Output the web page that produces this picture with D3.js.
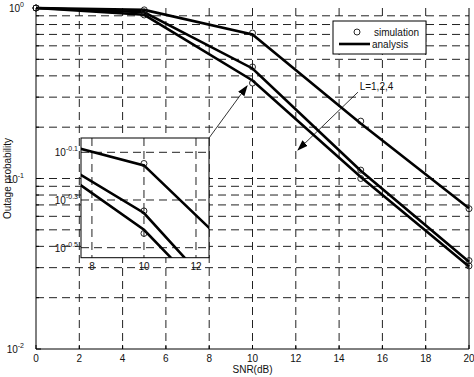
<!DOCTYPE html>
<html>
<head>
  <script src="https://d3js.org/d3.v7.min.js"></script>
  <style>
    body { margin: 0; background: #fff; font-family: 'Liberation Sans', Arial, sans-serif; }
    svg text { font-family: 'Liberation Sans', Arial, sans-serif; fill: #111; }
    .grid { stroke: #222; stroke-width: 1; stroke-dasharray: 8,5; fill: none; }
    .curve { fill: none; stroke: #000; stroke-width: 2.6; }
    .sim { fill: none; stroke: #111; stroke-width: 0.9; }
  </style>
</head>
<body>
<div id="chart"></div>
<script>
  // SNR points (dB)
  const snr = [0, 5, 10, 15, 20];

  // simulation (markers)
  const simL1 = [1, 0.975, 0.713, 0.217, 0.0665];
  const simL2 = [1, 0.945, 0.451, 0.112, 0.033];
  const simL4 = [1, 0.91, 0.363, 0.100, 0.0307];

  // analysis (lines)
  const anaL1 = [1, 0.975, 0.70, 0.21, 0.067];
  const anaL2 = [1, 0.944, 0.442, 0.111, 0.0325];
  const anaL4 = [1, 0.912, 0.376, 0.102, 0.0305];

  const xTicks = [0, 2, 4, 6, 8, 10, 12, 14, 16, 18, 20];
  const yTicks = [1, 0.1, 0.01];
  const yTickExp = ["0", "-1", "-2"];
  const insetXTicks = [8, 10, 12];
  const insetYTicks = [-0.1, -0.3, -0.5];
  const insetYLabels = ["-0.1", "-0.3", "-0.5"];

  const width = 474, height = 377;
  const margin = { top: 8, right: 5, bottom: 28, left: 36 };

  const svg = d3.select("#chart").append("svg")
    .attr("width", width)
    .attr("height", height);

  const x = d3.scaleLinear().domain([0, 20]).range([margin.left, width - margin.right]);
  const y = d3.scaleLog().domain([0.01, 1]).range([height - margin.bottom, margin.top]);

  // minor log values for the grid
  const minorY = [];
  [0.01, 0.1].forEach(base => {
    for (let k = 1; k <= 9; k++) minorY.push(base * k);
  });

  // grid
  svg.append("g").selectAll("line")
    .data(minorY.filter(v => v > 0.01))
    .enter().append("line")
    .attr("class", "grid")
    .attr("x1", x(0)).attr("x2", x(20))
    .attr("y1", d => y(d)).attr("y2", d => y(d));

  svg.append("g").selectAll("line")
    .data(xTicks.slice(1, -1))
    .enter().append("line")
    .attr("class", "grid")
    .attr("x1", d => x(d)).attr("x2", d => x(d))
    .attr("y1", y(1)).attr("y2", y(0.01));

  // axes lines
  const axisG = svg.append("g").attr("stroke", "#000").attr("stroke-width", 1);
  axisG.append("line").attr("x1", x(0)).attr("x2", x(0)).attr("y1", y(1)).attr("y2", y(0.01));
  axisG.append("line").attr("x1", x(0)).attr("x2", x(20)).attr("y1", y(0.01)).attr("y2", y(0.01));
  axisG.append("line").attr("x1", x(20)).attr("x2", x(20)).attr("y1", y(1)).attr("y2", y(0.01));

  // inward ticks
  axisG.selectAll(".xt")
    .data(xTicks)
    .enter().append("line")
    .attr("x1", d => x(d)).attr("x2", d => x(d))
    .attr("y1", y(0.01)).attr("y2", y(0.01) - 4);
  axisG.selectAll(".yt")
    .data(minorY.concat([1]))
    .enter().append("line")
    .attr("x1", x(0)).attr("x2", d => x(0) + (yTicks.includes(d) ? 5 : 3))
    .attr("y1", d => y(d)).attr("y2", d => y(d));

  // tick labels
  svg.append("g").selectAll("text")
    .data(xTicks)
    .enter().append("text")
    .attr("x", d => x(d))
    .attr("y", y(0.01) + 13)
    .attr("text-anchor", "middle")
    .attr("font-size", 10)
    .text(d => d);

  const yl = svg.append("g").selectAll("text")
    .data(yTicks)
    .enter().append("text")
    .attr("x", x(0) - 12)
    .attr("y", d => y(d) + 4)
    .attr("text-anchor", "end")
    .attr("font-size", 10);
  yl.append("tspan").text("10");
  yl.append("tspan").attr("dy", -5).attr("font-size", 7).text((d, i) => yTickExp[i]);

  // axis titles
  svg.append("text")
    .attr("x", x(10))
    .attr("y", height - 4)
    .attr("text-anchor", "middle")
    .attr("font-size", 10)
    .text("SNR(dB)");

  svg.append("text")
    .attr("transform", `translate(11, ${y(0.1)}) rotate(-90)`)
    .attr("text-anchor", "middle")
    .attr("font-size", 10)
    .text("Outage probability");

  // curves
  const analysis = [anaL1, anaL2, anaL4];
  const simulation = [simL1, simL2, simL4];

  const line = d3.line().x((d, i) => x(snr[i])).y(d => y(d));

  svg.append("g").selectAll("path")
    .data(analysis)
    .enter().append("path")
    .attr("class", "curve")
    .attr("d", line);

  simulation.forEach(s => {
    svg.append("g").selectAll("circle")
      .data(s)
      .enter().append("circle")
      .attr("class", "sim")
      .attr("cx", (d, i) => x(snr[i]))
      .attr("cy", d => y(d))
      .attr("r", 3);
  });

  // arrow marker
  svg.append("defs").append("marker")
    .attr("id", "arr")
    .attr("viewBox", "0 0 10 10")
    .attr("refX", 9).attr("refY", 5)
    .attr("markerWidth", 11).attr("markerHeight", 11)
    .attr("markerUnits", "userSpaceOnUse")
    .attr("orient", "auto")
    .append("path")
    .attr("d", "M0,1.5 L10,5 L0,8.5 Z")
    .attr("fill", "#000");

  // inset
  const ix0 = 81, ix1 = 209, iy0 = 138, iy1 = 257.7;
  const xi = d3.scaleLinear().domain([7.58, 12.5]).range([ix0, ix1]);
  const yi = d3.scaleLog().domain([Math.pow(10, -0.542), Math.pow(10, -0.04)]).range([iy1, iy0]);

  svg.append("defs").append("clipPath").attr("id", "insetClip")
    .append("rect").attr("x", ix0).attr("y", iy0).attr("width", ix1 - ix0).attr("height", iy1 - iy0);

  const inset = svg.append("g");
  inset.append("rect")
    .attr("x", ix0).attr("y", iy0).attr("width", ix1 - ix0).attr("height", iy1 - iy0)
    .attr("fill", "#fff");

  inset.selectAll(".ig")
    .data(insetXTicks)
    .enter().append("line")
    .attr("class", "grid")
    .attr("x1", d => xi(d)).attr("x2", d => xi(d))
    .attr("y1", iy0).attr("y2", iy1);
  inset.selectAll(".igy")
    .data(insetYTicks)
    .enter().append("line")
    .attr("class", "grid")
    .attr("x1", ix0).attr("x2", ix1)
    .attr("y1", d => yi(Math.pow(10, d))).attr("y2", d => yi(Math.pow(10, d)));

  const lineI = d3.line().x((d, i) => xi(snr[i])).y(d => yi(d));
  const clipG = inset.append("g").attr("clip-path", "url(#insetClip)");
  clipG.selectAll("path")
    .data(analysis)
    .enter().append("path")
    .attr("class", "curve")
    .attr("d", lineI);
  simulation.forEach(s => {
    clipG.append("g").selectAll("circle")
      .data(s)
      .enter().append("circle")
      .attr("class", "sim")
      .attr("cx", (d, i) => xi(snr[i]))
      .attr("cy", d => yi(d))
      .attr("r", 3);
  });

  inset.append("rect")
    .attr("x", ix0).attr("y", iy0).attr("width", ix1 - ix0).attr("height", iy1 - iy0)
    .attr("fill", "none").attr("stroke", "#000").attr("stroke-width", 1);

  inset.selectAll(".ixl")
    .data(insetXTicks)
    .enter().append("text")
    .attr("x", d => xi(d))
    .attr("y", iy1 + 12)
    .attr("text-anchor", "middle")
    .attr("font-size", 10)
    .text(d => d);

  const iyl = inset.selectAll(".iyl")
    .data(insetYTicks)
    .enter().append("text")
    .attr("x", ix0 - 3)
    .attr("y", d => yi(Math.pow(10, d)) + 4)
    .attr("text-anchor", "end")
    .attr("font-size", 10);
  iyl.append("tspan").text("10");
  iyl.append("tspan").attr("dy", -5).attr("font-size", 7).text((d, i) => insetYLabels[i]);

  // arrow from inset to zoomed region
  svg.append("line")
    .attr("x1", ix1).attr("y1", iy0)
    .attr("x2", x(9.75)).attr("y2", y(0.349))
    .attr("stroke", "#000").attr("stroke-width", 0.8)
    .attr("marker-end", "url(#arr)");

  // L=1,2,4 annotation
  svg.append("line")
    .attr("x1", x(14.87)).attr("y1", y(0.321))
    .attr("x2", x(12.1)).attr("y2", y(0.147))
    .attr("stroke", "#000").attr("stroke-width", 0.8)
    .attr("marker-end", "url(#arr)");
  svg.append("text")
    .attr("x", x(14.95))
    .attr("y", y(0.33))
    .attr("font-size", 10)
    .text("L=1,2,4");

  // legend
  const lg = svg.append("g");
  lg.append("rect")
    .attr("x", 333).attr("y", 21).attr("width", 93).attr("height", 33)
    .attr("fill", "#fff").attr("stroke", "#000").attr("stroke-width", 1);
  lg.append("circle").attr("class", "sim").attr("cx", 357).attr("cy", 32).attr("r", 3);
  lg.append("line").attr("x1", 339).attr("x2", 370).attr("y1", 44).attr("y2", 44)
    .attr("stroke", "#000").attr("stroke-width", 2.6);
  lg.append("text").attr("x", 374).attr("y", 35.5).attr("font-size", 10).text("simulation");
  lg.append("text").attr("x", 372).attr("y", 47.5).attr("font-size", 10).text("analysis");
</script>
</body>
</html>
